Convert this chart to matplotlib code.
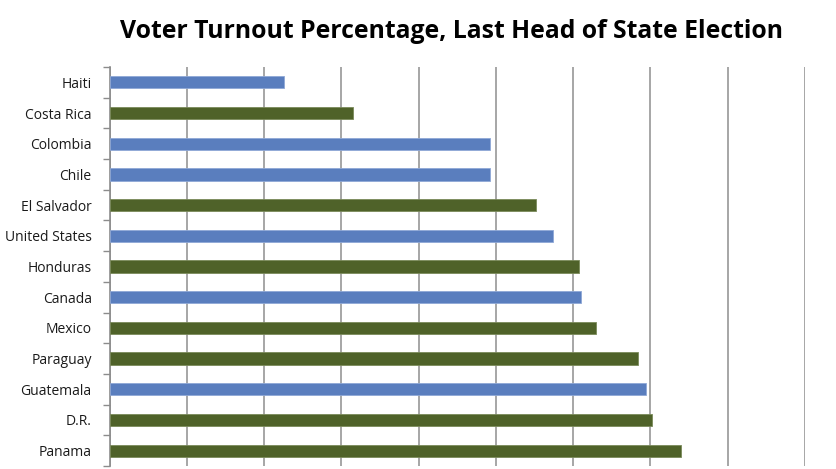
import numpy as np
import matplotlib
matplotlib.use("Agg")
import matplotlib.pyplot as plt

countries = ["Haiti", "Costa Rica", "Colombia", "Chile", "El Salvador",
             "United States", "Honduras", "Canada", "Mexico", "Paraguay",
             "Guatemala", "D.R.", "Panama"]
turnout = [22.6, 31.5, 49.2, 49.2, 55.2, 57.4, 60.8, 61.0, 63.0, 68.4,
           69.4, 70.2, 73.9]
groups = ["blue", "green", "blue", "blue", "green", "blue", "green",
          "blue", "green", "green", "blue", "green", "green"]

colors = {"blue": "#5A7EBE", "green": "#4F6229"}
edges = {"blue": "#8FA8D6", "green": "#7A8A5A"}

fig = plt.figure(figsize=(8.36, 4.69), dpi=100)
ax = fig.add_axes([109.7 / 836, 3 / 469, (805 - 109.7) / 836, (466 - 67) / 469])

y = np.arange(len(countries))
ax.barh(y, turnout, height=0.4,
        color=[colors[g] for g in groups],
        edgecolor=[edges[g] for g in groups], linewidth=0.6, zorder=3)

ax.set_xlim(0, 90)
ax.set_ylim(len(countries) - 0.5, -0.5)
ax.set_xticks(np.arange(0, 91, 10))
ax.xaxis.grid(True, color="#A6A6A6", linewidth=1.4, zorder=0)
ax.tick_params(axis="x", length=0, labelbottom=False)

ax.set_yticks(y)
ax.set_yticklabels(countries, fontsize=10, family="Open Sans", color="#1a1a1a")
ax.set_yticks(np.arange(-0.5, len(countries), 1), minor=True)
ax.tick_params(axis="y", which="major", length=0, pad=13)
ax.tick_params(axis="y", which="minor", length=5, color="#8C8C8C", width=1)

for s in ["top", "right", "bottom"]:
    ax.spines[s].set_visible(False)
ax.spines["left"].set_color("#8C8C8C")
ax.spines["left"].set_linewidth(1.2)

fig.text(451 / 836, 1 - 32 / 469, "Voter Turnout Percentage, Last Head of State Election",
         ha="center", va="center", fontsize=17.8, fontweight="bold", family="Open Sans")

fig.savefig("out.png", dpi=100)
